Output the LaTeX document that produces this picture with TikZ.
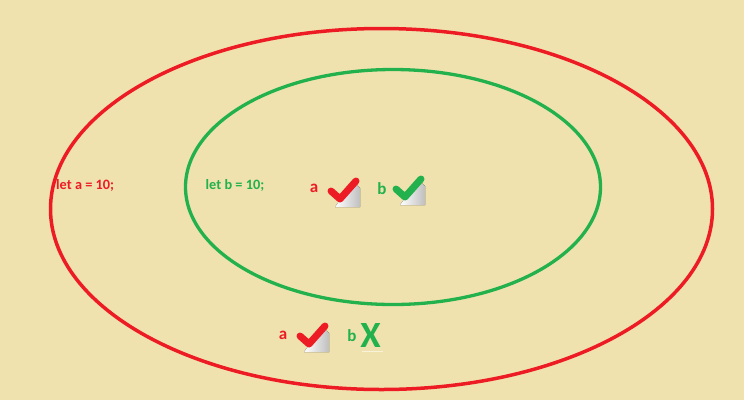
\documentclass[tikz,border=0pt]{standalone}
\usepackage{fontspec}
\setmainfont{Carlito}
\definecolor{bg}{RGB}{240,226,174}
\definecolor{redc}{RGB}{237,28,36}
\definecolor{greenc}{RGB}{34,177,76}
\tikzset{
  code/.style={font=\bfseries\fontsize{14.3}{16}\selectfont, inner sep=0pt, anchor=west},
  lbl/.style={font=\bfseries\fontsize{17}{19}\selectfont, inner sep=0pt},
  pics/chk/.style={code={
    \fill[left color=white, right color=black!25] (-9,16) -- (16,16) -- (16,-3) -- (9,-9) -- cycle;
    \draw[#1, line width=7pt, line join=round, line cap=round] (-13,0) -- (-4,8) -- (12,-10);
  }}
}
\begin{document}
\begin{tikzpicture}[x=1pt,y=-1pt]
\fill[bg] (0,0) rectangle (744,400);
\useasboundingbox (0,0) rectangle (744,400);
\coordinate (outerC) at (381.5,209);
\coordinate (innerC) at (393,187);
\draw[redc, line width=3.5pt] (outerC) ellipse [x radius=331, y radius=180.5];
\draw[greenc, line width=3.3pt] (innerC) ellipse [x radius=207.5, y radius=117.5];
\node[code, text=redc] (leta) at (56,185) {let a = 10;};
\node[code, text=greenc] (letb) at (205.5,185) {let b = 10;};
\node[lbl, text=redc] (ain) at (314,188) {a};
\pic (chkain) at (344,191) {chk=redc};
\node[lbl, text=greenc] (bin) at (382,189) {b};
\pic (chkbin) at (409,189) {chk=greenc};
\node[lbl, text=redc] (aout) at (283,335) {a};
\pic (chkaout) at (313,336) {chk=redc};
\node[lbl, text=greenc] (bout) at (352,336) {b};
\node[font=\bfseries\fontsize{37}{40}\selectfont, text=greenc, inner sep=0pt] (xout) at (370.5,335) {X};
\draw[white!55!bg, line width=1.5pt] (362,351.5) -- (383,351.5);
\end{tikzpicture}
\end{document}
